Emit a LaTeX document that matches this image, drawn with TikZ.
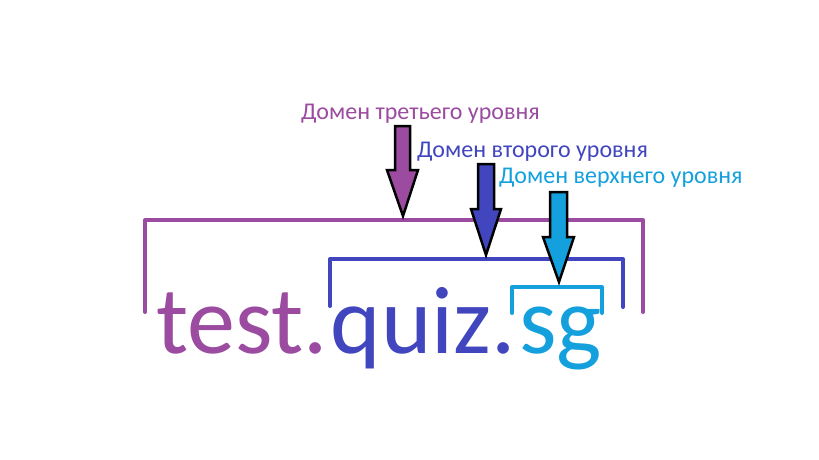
\documentclass[tikz,border=0pt]{standalone}
\usepackage{fontspec}
\setmainfont{Carlito}
\definecolor{cpurple}{HTML}{9B4BA0}
\definecolor{cblue}{HTML}{4146BE}
\definecolor{ccyan}{HTML}{14A0DC}
\tikzset{
  bracket/.style={line width=4pt, line join=round, line cap=round},
  blockarrow/.style={draw=black, line width=2.5pt, line join=miter},
  lbl/.style={anchor=base west, inner sep=0pt, font=\fontsize{24}{24}\selectfont},
}
\begin{document}
\begin{tikzpicture}[x=1pt,y=-1pt]
\useasboundingbox (0,0) rectangle (819,460);
\fill[white] (0,0) rectangle (819,460);
% labels
\node[lbl, text=cpurple] (l3) at (301,119) {Домен третьего уровня};
\node[lbl, text=cblue] (l2) at (417,157) {Домен второго уровня};
\node[lbl, text=ccyan] (l1) at (499,183) {Домен верхнего уровня};
% brackets
\draw[bracket, cpurple] (145,312) -- (145,220) -- (643,220) -- (643,312);
\draw[bracket, cblue] (330,306) -- (330,259) -- (623,259) -- (623,307);
\draw[bracket, ccyan] (512,313) -- (512,287) -- (602,287) -- (602,313);
% arrows
\coordinate (t3) at (403,216);
\coordinate (t2) at (486,255);
\coordinate (t1) at (559,282);
\filldraw[blockarrow, fill=cpurple] (395,126) -- (410,126) -- (410,170) -- (418,170) -- (t3) -- (387,170) -- (395,170) -- cycle;
\filldraw[blockarrow, fill=cblue] (478,164) -- (494,164) -- (494,209) -- (501,209) -- (t2) -- (471,209) -- (478,209) -- cycle;
\filldraw[blockarrow, fill=ccyan] (550,192) -- (567,192) -- (567,237) -- (574,237) -- (t1) -- (543,237) -- (550,237) -- cycle;
% domain text
\node[anchor=base west, inner sep=0pt, font=\fontsize{96}{96}\selectfont] (dom) at (156,353)
  {\textcolor{cpurple}{test.}\hspace{3pt}\textcolor{cblue}{quiz.}\hspace{3pt}\textcolor{ccyan}{sg}};
\end{tikzpicture}
\end{document}
